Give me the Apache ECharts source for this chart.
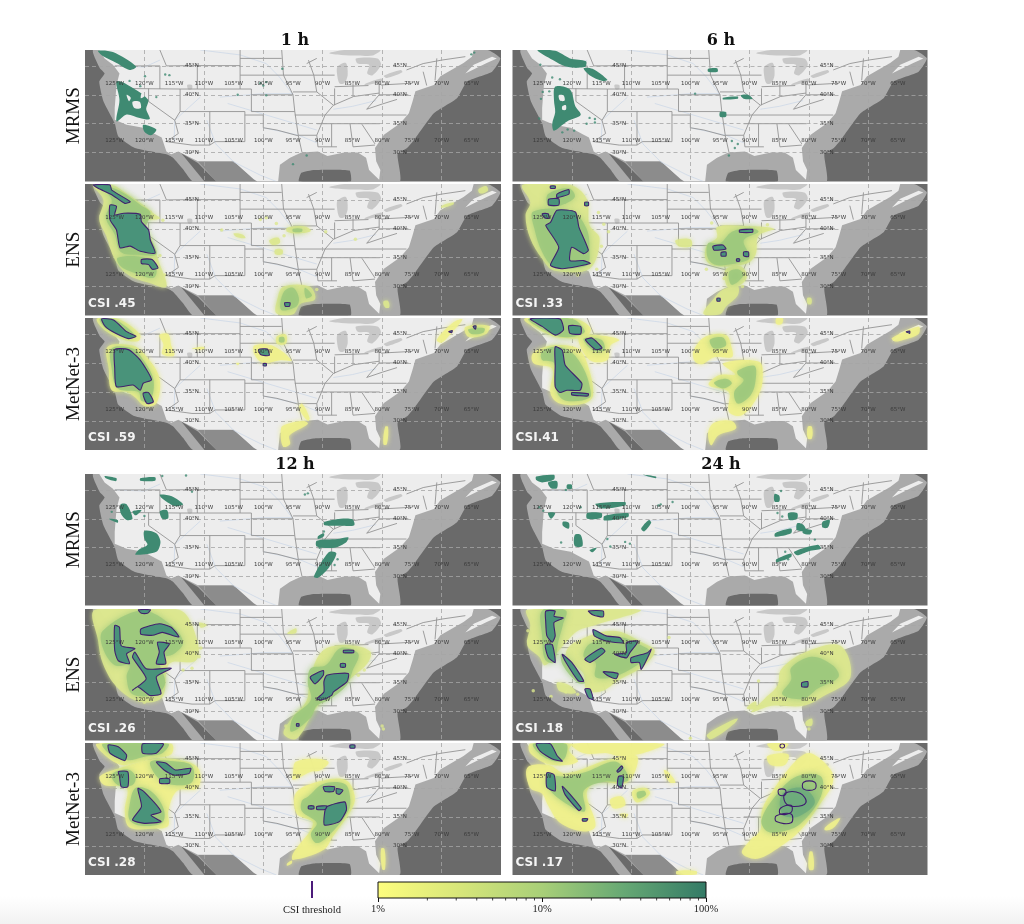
<!DOCTYPE html>
<html>
<head>
<meta charset="utf-8">
<title>Precipitation forecast maps</title>
<script src="https://cdn.jsdelivr.net/npm/echarts@6/dist/echarts.min.js"></script>
<style>
html,body{margin:0;padding:0;background:#fff;}
#main{width:1024px;height:924px;filter:blur(0.45px);}
</style>
</head>
<body>
<div id="main"></div>
<script>
// shapes are flat lists: lon,lat,lon,lat...
var midBand = [[-128.6,47.75,-127.5,44.6,-126.7,43.7,-127.6,42.3,-126.9,38.9,-125,35.1,-124.4,32.8,-121.6,30.8,-116.3,29.7,-115.2,29.1,-113.5,27.1,-111.8,25,-77.1,25,-77.4,29.7,-75.8,30.8,-74.4,32.5,-71.3,36.8,-67.4,39.4,-65.7,42.3,-61.5,44,-60.1,46.3,-62.3,47.75]];
var mexico = [[-111,28.5,-105,28.5,-101.6,25.4,-101,25,-107.9,25]];
var bajaDark = [[-113.8,29.9,-111,28.2,-107.9,25,-109.9,25]];
var gulfDeep = [[-94,25,-93.6,26.5,-91.4,27,-85.5,26.9,-85.3,25]];
var land = [[-127.6,47.75,-126.7,46.3,-125.3,45.2,-124.2,43.7,-124.7,41.7,-125,37.7,-125,35.7,-123,34.8,-120.2,34.3,-118,33.1,-117.1,32.6,-116.3,30.2,-115.5,29.7,-114.3,30.2,-111,28.5,-105,28.5,-101.6,25.4,-101,25,-97.5,25,-97.2,27.9,-95.5,29.1,-93.6,30,-90.8,30.2,-89.2,29.4,-86.4,30,-84.1,30,-82.7,29.1,-82.2,27,-80.5,25.3,-80.3,27,-81,28.5,-81.2,30.8,-79.7,33.1,-76.9,35.1,-75.5,36.8,-74.9,38.8,-74.4,40.6,-71.3,41.7,-70.2,43.2,-66.3,45.5,-64.9,46.6,-64.6,47.75],[-66,43.7,-62.4,45.5,-60.7,46.3,-61.5,46.6,-64.6,45.2]];
var lakes = [
  [-88.9,47.2,-86.4,47.75,-80.3,47.75,-81.6,46.8,-84.1,46.8,-86.9,46.9],
  [-87.5,44.9,-86.1,45.5,-85.8,43.4,-86.4,42,-87.2,42,-87.6,43.7],
  [-84.4,46.3,-80.8,46.3,-80.2,45.2,-81.6,43.4,-82.5,43.7,-82.2,45.2,-84.1,45.4],
  [-83,41.8,-80.2,42.8,-79.9,42.4,-82.5,41.7],
  [-79.7,43.3,-76.9,44.3,-76.6,43.9,-79.2,42.9],
  [-112.8,41.7,-112,41.7,-112,41,-112.6,40.9]
];
var stateLines = [
  [-103.9,47.75,-103.9,41],[-111.1,41,-111.1,45.05,-103.9,45.05],[-114,41,-102,41,-102,37.1],
  [-114,41,-114,37.1,-114.9,35.6,-114.3,33.3,-116.3,31.9],[-114,37.1,-103.1,37.1],[-109,37.1,-109,31.3],
  [-116.3,31.9,-112,31.3,-109,31.3,-108.1,31.9,-103.1,31.9,-103.1,37.1],
  [-103.1,36.5,-100,36.5,-100,34.3,-97.7,33.9,-94.1,32.9],[-102,40,-95,40],[-102,37.1,-94.7,37.1],
  [-95,40,-94.7,37.1,-94.1,32.9,-93.5,30.1],[-103.9,43.4,-96.6,43.4],[-103.9,46.3,-96.9,46.3],
  [-96.9,47.75,-96.6,43.4,-95,40],[-96.6,43.4,-91.5,43.4],[-95,40.5,-91,40.5],
  [-94.7,36.5,-75.9,36.5],[-91,35,-80.4,35],[-94.1,33,-91,33,-90.8,31,-87.6,31],
  [-88.5,35,-88.5,31],[-85.4,35,-84.9,31,-81.2,31.3],[-83.4,34.9,-81.2,31.5],
  [-91.5,43.4,-91,40.5,-88.2,38.2,-89.6,36.5,-91,33],[-88.2,38.2,-84.8,39.7,-80.5,40.3],
  [-80.5,42.3,-80.5,40,-75.6,40],[-80.2,41.7,-74.9,42],[-80.5,40,-82.6,37.5,-80,38.4,-77.5,39.2],
  [-88,41.1,-88,38.2],[-84.9,42,-84.9,39.7],[-88,41.4,-82.3,41.6],[-91.5,43.4,-88,43.4],[-92.4,46,-91.5,43.4],
  [-73.1,44,-72.5,41.6],[-70.8,46.3,-71.1,42.5],[-75.9,44.3,-73.1,45.4,-70,46,-66,46.6],[-92.7,45.4,-91,46.3],
  [-119.3,41.1,-119.3,38.85,-114.9,35.6],[-124.8,41.1,-114,41],[-125,45,-117.4,45],[-117.4,47.75,-116.3,45,-111.1,45.05],[-117.4,45,-117.4,41]
];
var rivers = [
  [-95,40,-97.3,43.1,-99.5,45.4,-103.9,46.9,-110.6,47.75],[-95,40.2,-100,40.2,-107.3,39.6],
  [-106,38.5,-99.5,36.5,-91,33.9],[-109.5,35.6,-108,31.5,-105,28.4,-100.5,26.1,-97.8,25],
  [-110.6,39.6,-114.9,35.6,-115,32],[-100,34.3,-94,33,-91,31.7],[-125,45,-120,44.8,-117.4,46],
  [-88.2,37.5,-85,38,-81,39]
];
var lonLabels = ['125°W','120°W','115°W','110°W','105°W','100°W','95°W','90°W','85°W','80°W','75°W','70°W','65°W'];
var lonTicks = [-125,-120,-115,-110,-105,-100,-95,-90,-85,-80,-75,-70,-65];
var lonLabelLats = [42,32];
var latLabels = ['45°N','40°N','35°N','30°N'];
var latTicks = [45,40,35,30];
var latLabelLons = [-112,-77];

// 1 h
var mrms1h = [[-127.8,47.6,-125.3,47.4,-121.4,44.9,-122.5,44.3,-124.7,45.5,-127,46.7],[-124.7,42.3,-123.3,42,-119.4,39.2,-119.7,37.5,-119.1,35.8,-120.8,36,-123,36.6,-124.7,35.4,-124.2,39.1],[-120.2,34.8,-118,34,-118.9,33,-120,33.6]];
var mrms1hHoles = [[-122,38.8,-120.8,38.8,-120.6,37.7,-121.7,37.7],[-123,40,-122.3,39.5,-122.6,38.9],[-120.5,40.2,-120,39.8,-120.6,39.4]];
var mrms1hSpecks = [[-116.5,43.5],[-115.8,43.4],[-100.5,42],[-100,41.6],[-99.5,42.2],[-96.8,44.5],[-104.3,40],[-99.5,39.9],[-65,47],[-95,28],[-92.7,29.5],[-64.5,47.3],[-122.5,42.4],[-120.7,41.5],[-119.9,43.2],[-118,39.6]];
var ens1hPale = [[-128.6,47.6,-125.5,47.6,-123,46.1,-120.2,44.1,-118.5,42.7,-117.4,41.8,-120,41.2,-118.5,37.5,-117.7,34.7,-116.3,30,-119,30.6,-122.7,32,-125,34.7,-126.4,38.7,-127.6,41.6,-126.9,45],[-97.8,25.4,-97.6,28,-96.6,30,-92.2,30,-91.3,27.8,-93.8,27,-95,25.2],[-96,40.2,-93,40.4,-92,39.6,-94,39.2,-96,39.5],[-99,38,-97.5,38.5,-97.2,37.6,-98.5,37.2],[-98,36.4,-96.8,36.4,-96.8,35.6,-98,35.6],[-105,39.2,-103.5,39,-103,38.4,-104.5,38.6],[-63.8,46.8,-62.5,47.4,-62.2,46.6,-63.5,46.1],[-79.8,27.4,-79,27.5,-78.8,26.4,-79.5,26.4],[-70,44,-68,44.6,-68,44.2,-70,43.6]];
var ens1hDeep = [[-127.5,47.5,-124,46.5,-120.5,44,-119,42.8,-119.8,40,-118.8,38,-118,35.6,-121,35.5,-124,36,-125,39,-126.5,42,-125.5,45],[-124.5,35,-120,35,-118,33,-118.5,31.5,-122,32.5,-124,33.5],[-97,26,-96.6,29,-95,29.8,-94,28,-94.5,26.5],[-93,29.8,-91.8,28.5,-92.8,28],[-95,40,-93.5,40,-93.5,39.5,-95,39.5]];
var ens1hCore = [[-128.6,47.6,-125.8,47.6,-125.5,46.7,-122.4,44.7,-123.3,44.4,-125.5,45.9,-127.8,47],[-125.8,44.1,-124.7,43.9,-125,42.4,-123.5,42.7,-120.7,42.5,-120.5,41.2,-119.3,39.8,-119,38,-118.2,35.8,-120.7,36.1,-122.4,37,-124.1,36.7,-124.7,39.8,-125.8,41.6],[-120.5,34.7,-118.7,34.7,-117.7,33.2,-118.7,33,-119.3,33.8,-120.5,34],[-96.4,27.2,-95.5,27.2,-95.6,26.6,-96.3,26.6]];
var ens1hSpecks = [[-100.5,41.6],[-99.5,41.9],[-97.8,40.9],[-96.5,38.8],[-107,39.8],[-89.5,39.5],[-84.5,38.2],[-119,42.9],[-116.9,41.5],[-117.4,35.4],[-116.6,32],[-94,28.8],[-91,29.5]];
var met1hPale = [[-128,47.6,-124.5,47.6,-120.8,45,-121,43.8,-123.5,44,-126.5,45.5],[-126.2,42.8,-122,43,-120,41.5,-117.5,37.5,-118,33,-120,32.6,-121.5,34,-123,35,-125.5,35.3,-126,39],[-117.5,44.8,-116,45,-115.5,43,-115,41.3,-117,41.5,-116.8,43.2],[-101.5,43,-98.5,43,-95.2,40.4,-97,40.5,-100,40,-101.5,41.5],[-97.7,44.6,-96.2,44.9,-96.2,43.3,-97.7,43.3],[-70.8,44,-68,47,-66.5,47.5,-68.5,45,-70,43.5],[-66,46.2,-62,46.4,-62.5,45,-65.5,44.5],[-97,28.8,-96.7,25.6,-95.5,26,-95.6,27.5,-92.5,29.5,-93.2,30,-96,29.5],[-94,32.2,-92.5,30,-92.2,30.5,-93.5,33],[-79.5,29,-79,29,-79.2,26,-79.8,26],[-112,42.5,-110,42.8,-110,42.3],[-104.6,40,-104,40,-104.3,39.6]];
var met1hDeep = [[-127.5,47.6,-125,47.5,-121.5,44.7,-122.5,44.2,-126.5,46],[-125.5,42.5,-122,42.5,-120.5,41,-118.5,37.2,-119,33.5,-120.5,33.5,-121,35,-124.5,35.6,-125.5,39],[-97.3,44.4,-96.5,44.4,-96.5,43.6,-97.3,43.6],[-65.5,45.8,-62.8,46,-63,45.2,-65,45]];
var met1hCore = [[-127.2,47.6,-125.2,47.4,-123,45.4,-121.4,44.6,-122.7,44.2,-125,45.2,-126.6,46.3],[-125,42.3,-122.7,42.3,-120.7,40.5,-118.8,37.1,-120.2,36.5,-120.7,35.3,-121.9,36.2,-124.7,35.9,-125,39.1],[-120.2,34.8,-119.3,34.9,-118.5,33.3,-119.5,33,-120,33.8],[-100.8,42.3,-99.3,42.4,-99,41.3,-100.4,41.4],[-100,39.9,-99.5,39.9,-99.5,39.5,-100,39.5],[-68.8,45.4,-68.2,45.6,-68.3,45.2],[-64.7,46.3,-64.2,46.4,-64.3,45.8]];
// 6 h
var mrms6h = [[-125.8,47.7,-122.8,47.6,-120.3,46.3,-117.6,45.8,-117.8,44.8,-121,44.9,-123.2,46],[-118,44.6,-116.5,44.5,-114,42.6,-114.8,42.4,-117,43.4],[-122.8,41.4,-120.3,40.9,-119.4,38,-118.5,36.5,-120.8,35.4,-123,33.8,-123.3,35,-122.8,37,-123,39],[-97,44.5,-95.5,44.6,-95.4,44,-97,44],[-91.5,39.9,-90.3,40,-89.5,39.3,-91,39.3],[-94.5,39.5,-92,39.7,-92,39.3,-94.5,39.2],[-95,37,-94,37,-94,36.2,-95,36.2]];
var mrms6hHoles = [[-122.2,39.9,-121.4,39.9,-121.2,39,-122,39],[-121.6,38,-121,38.2,-121,37.4,-121.6,37.4]];
var mrms6hSpecks = [[-125.3,45.2],[-124.9,40.5],[-125.2,39.3],[-125.5,35.9],[-123.3,43],[-123.8,40.6],[-119.3,44.9],[-116.1,35.8],[-116.1,35.2],[-117,36],[-120.7,34],[-119.6,33.8],[-122,42.7],[-99.2,40.2],[-93,32],[-92,31.5],[-92.5,30.8],[-93.5,29.5],[-121.6,33.5],[-117.5,35]];
var ens6hPale = [[-128.3,47.6,-120.3,47.6,-117.5,45.2,-117,40.6,-115.3,38.3,-117,33.1,-123,32.8,-125,34.8,-127,38.3,-127.8,42.3,-127,44.6],[-95.5,40.3,-91,40.5,-85.8,40,-88.5,38.8,-89,35.5,-90.5,34,-95.5,33.5,-97.3,34.5,-97.3,37,-95.5,38.5],[-94,33,-91.5,33.5,-90.5,31.5,-93,29.5,-94,30.5],[-97.8,25.3,-96,28,-94.5,29.5,-92,30,-92,28.5,-94,26.5,-95,25.2],[-102.5,38,-100,38.2,-99.8,37,-102,37],[-80.3,28,-79.6,28,-79.6,27,-80.2,27]];
var ens6hDeep = [[-126.5,43,-120,43,-117.5,40,-117,36,-117.5,33.6,-123,33.5,-125,36,-126.3,40],[-97,37.5,-95,37.5,-93,39.5,-90,40.2,-88.5,39.5,-91,38,-90,35,-91.5,34.2,-95.5,33.7,-97,34.8],[-93.5,32.5,-92,33,-91,32,-93,30.3],[-124,46,-120.5,47,-119.5,45.5,-122,44,-124,44]];
var ens6hCore = [[-122.5,43.2,-119.4,42.9,-118.8,40.3,-117.2,36.3,-118,35.7,-120,36.8,-120.3,34.5,-118,34.5,-116.9,34,-121.6,33.1,-123.6,33.7,-122.2,36.8,-124.4,40.6,-123.6,41.1],[-123.9,45.1,-122.2,45.2,-122.2,44.1,-123.9,44.1],[-122.5,46,-120.5,46.8,-120.5,46,-122.5,45.4],[-125,42.6,-124,42.6,-123.8,41.8,-124.6,41.9],[-96.2,37,-94.5,37.2,-94,36.5,-96,36.3],[-94.8,35.9,-94,36,-94,35.3,-94.8,35.3],[-91.7,39.8,-89.5,39.9,-89.5,39.4,-91.7,39.4],[-91,36,-90.2,36,-90.2,35.2,-91,35.3],[-123.6,47.4,-122.8,47.4,-122.8,47,-123.6,47],[-117.8,44.6,-117.2,44.6,-117.2,44,-117.8,44],[-92.2,34.8,-91.7,34.8,-91.7,34.4,-92.2,34.4],[-95.5,28,-95,28,-95,27.5,-95.5,27.5]];
var ens6hSpecks = [[-115.5,42.8],[-114.6,40.8],[-113.8,39.5],[-115,37],[-115.8,33],[-119,32],[-96.4,41],[-87,40.7],[-94.3,31.4],[-97.3,33],[-91.2,30]];
var met6hPale = [[-128,47.6,-119.5,47.6,-116.8,46,-117.5,44.6,-119,44.2,-121,44.3,-123,44.5],[-126.7,41.4,-125.3,42.5,-122.5,43.1,-119,42.5,-117.5,40.2,-116.4,34.5,-118,33,-122,33,-123.6,34.8,-123.3,39,-126.4,39.9],[-118.9,44.6,-116,44.8,-112,44,-113.5,43,-114,40.5,-117,40.5],[-97.5,44.5,-94,44.8,-93,42.5,-93,41,-96,41,-98,39.8,-99.2,40.2,-99.5,42],[-94.5,39.9,-88.4,40.2,-87.8,37.4,-88.5,34.5,-91.3,31,-93.5,31.6,-93.5,35,-96.9,36.2,-95.2,37.9,-92.4,38],[-97,28,-96,29.7,-93,30,-92.3,28.7,-95.3,27.5,-96.5,25.8],[-80.2,29,-79.5,29,-79.5,27,-80.2,27],[-66,44.3,-61.5,46.3,-61.5,45,-64,44,-65.5,43.7],[-85.5,47.7,-84.4,47.7,-84.6,46.7,-85.5,46.7]];
var met6hDeep = [[-127.3,47.6,-120,47.6,-117.8,45.5,-119,44.7,-122,44.5,-125,45.8],[-125,42,-122.5,42.8,-120,41.8,-118,39,-117,36,-117,34,-121,33.5,-122.5,35,-123,40,-125,40.5],[-92,38.7,-89.2,39.5,-89,37,-89.8,34.5,-92,33,-92.6,35,-91,37,-92,38],[-96,36.6,-94,37.3,-93,36.5,-94.5,35.6],[-96.7,44,-94.5,44.4,-94,43,-96,42.5],[-118,44.2,-115,44,-114.5,42.2,-116.5,42.2]];
var met6hCore = [[-127,47.6,-122,47.6,-121.4,45.7,-122.8,44.8,-125,46.3],[-120.5,46.4,-118.5,46.3,-118.5,45,-120.3,45.1],[-117.7,44,-116.6,44.3,-114.9,42.6,-116,42.3],[-122.8,42.8,-121.6,42.2,-121.1,39.6,-118.3,36.5,-118.6,35.3,-120.8,35.3,-122,34.9,-122.8,35.9,-122.8,39.6],[-120,34.9,-117.2,34.7,-117.3,34.3,-120,34.5],[-63.6,45.4,-63,45.5,-63,45.1]];
// 12 h
var mrms12h = [[-117.4,44.2,-115.4,43.9,-113.5,42.5,-114.9,42.2,-117.2,43.7],[-117.4,41.3,-116.2,41.5,-116,40.1,-117,40],[-120.7,47,-118.2,47.2,-118.2,46.6,-120.7,46.6],[-126.7,47.4,-124.7,47,-124.8,46.5,-126.5,47],[-124,42.5,-123,42.5,-122,40,-123,39.8,-124,41],[-126,40,-124.5,39.8,-124.5,39.3],[-122,41.3,-120.5,41.5,-121.5,40.6],[-120,37.9,-118,37.5,-117.3,36,-118,34.3,-121.5,33.8,-121,34.6,-119.5,35.5,-120,36.5],[-89.8,39.4,-87,40,-85,39.9,-84.7,38.9,-87,38.8,-89.7,38.9],[-91,36.2,-87.5,36.5,-85.7,36.8,-86,36,-88,35,-91,35.2],[-91.5,30,-89,34.2,-87.7,34,-89,31.5,-90.8,29.8],[-90.8,37,-89.8,37.5,-89.8,37,-90.8,36.5]];
var mrms12hSpecks = [[-93,44.2],[-92.5,44.4],[-117,47.4],[-113,47.5],[-112,44.7],[-123.5,41.8],[-125.5,41.2],[-120,40.5],[-88,32],[-87.5,33],[-90.5,35],[-89.8,37.8]];
var ens12hPale = [[-128.3,47.6,-114.2,47.6,-111.1,42.3,-111.4,38.8,-115.8,38.3,-117,32.5,-120.8,31.7,-124.7,34.3,-127,38.3,-127.8,42.3],[-89.9,40.6,-85.5,41.5,-82,40.4,-82.5,38.3,-85,36,-87.7,33.7,-91,30.8,-94.4,25.3,-96.6,26.2,-95,29.1,-92.7,31.9,-92.1,36],[-110.8,45.4,-109.5,45,-110.5,44.5],[-96,43.5,-94.5,44.4,-94.5,43.6]];
var ens12hDeep = [[-127,44,-120.5,47.5,-115.5,45,-113.5,42,-115,40,-117.5,39,-116.5,35,-118,33,-122,33,-123,36,-122.5,38,-125,38,-127,41],[-92,37.5,-89.5,38,-87,41,-84,40,-85,37,-86,34.5,-89,32,-91,31,-92,29,-95.3,26.5,-95,29,-92,32,-92.5,35]];
var ens12hCore = [[-125,44.9,-124.2,44.6,-123.9,41.4,-121.6,40.9,-123,40,-122.5,38.3,-124.4,38.8,-125,40.6],[-120.6,44.3,-117.5,45.2,-115.5,44.6,-114.2,42.9,-117,43.7,-118.6,43.2,-120.6,43.4],[-117.8,42,-115.8,41.7,-116.7,40.3,-116.4,38.3,-118,38.3,-117.5,40.3],[-121.6,40.3,-119.7,37.4,-115.5,37.5,-118,36,-117.2,33.1,-119.1,32.8,-121.1,34.3,-122,33.7,-119.7,35.7,-122,39.4],[-121,47.6,-119,47.6,-119.5,47,-120.5,47],[-89.3,36.3,-85.7,36.6,-85.9,35.2,-88.2,33.4,-88.5,32.8,-90.2,32,-91,32.2,-89.8,33.4,-89.8,35.2],[-92.1,36,-89.9,37.1,-89.9,36.3,-91.3,34.8],[-86.5,40.6,-84.8,40.6,-84.8,40.2,-86.5,40.2],[-87,38.3,-86.2,38.3,-86.2,37.7,-87,37.7],[-94.4,27.9,-94,27.9,-94,27.5,-94.4,27.5]];
var ens12hSpecks = [[-80,27.5],[-79.8,27],[-112,37.5],[-113.5,37.2],[-110.5,41],[-110.8,39.5],[-83,37.2],[-84,36.3],[-120,31.6],[-124,35.5],[-96.2,27.5]];
var met12hPale = [[-128,47.6,-115.5,47.6,-115.5,45.8,-119,45,-122,44.2,-124,44,-126.5,45.5],[-127.5,42,-124,43.5,-119,44.9,-115,45,-111,43.5,-111,40,-114.5,39.5,-116,36,-116,33.5,-118,33,-122.5,33.2,-123.3,36,-123,40,-126.8,40.5],[-94.4,39.3,-89.9,41.3,-86,41.3,-84.6,38.5,-85.2,36.2,-88.3,31.6,-89.9,29.3,-95,27.6,-95,28.7,-91.6,33.9,-94.4,35.6],[-94.5,44.5,-90.5,45,-89,44.4,-90.5,43,-92,42.8,-95,41.4,-95,42.5],[-96,27,-95.2,27.5,-95.2,27,-96,26.6],[-80.2,29.5,-79.6,29.5,-79.5,26,-80,26]];
var met12hDeep = [[-127,47.6,-116,47.6,-117,46,-120,45.4,-123,44.8,-126,46],[-125.5,42.3,-122.8,43.2,-121.5,42,-122,40.5,-124.5,40.5],[-119,44.5,-115,44.6,-112,43.8,-112,41,-115,40.5,-117.5,41.5],[-121.5,40,-119,39.5,-116.8,36.5,-117,34,-120.5,33.5,-122.5,34.5,-122.5,37],[-92.5,38.5,-89.9,40.7,-86.3,40.7,-85.4,38.5,-85.7,36,-88.8,32,-91,30.5,-92,32,-91,34,-93.5,36,-93.5,37.8]];
var met12hCore = [[-126.1,47.4,-124.4,47.1,-123,45.7,-123.3,44.7,-125.8,46],[-120.3,47.6,-116.8,47.6,-118,46,-120.3,46],[-118,44.5,-116.4,44.3,-114.8,43.1,-112.2,43.4,-112.5,42.5,-115,42.2,-116.7,43.1],[-124.4,42.8,-122.8,42.8,-122.8,40.2,-123.9,40.2,-124.2,42],[-121.1,39.9,-120,39.3,-117.2,35.9,-118.9,35.3,-117.2,34.2,-120,33.9,-122,34.5,-120.5,36.8],[-117.4,41.6,-115.8,41.6,-115.8,40.8,-117.4,40.8],[-85.4,47.4,-84.6,47.4,-84.6,46.9,-85.4,46.9],[-89.3,36.8,-86.3,37.6,-86,36.2,-87.2,34.2,-89.7,33.6,-89.7,35.6],[-89.9,40.2,-88,40.2,-88.2,39.4,-89.6,39.4],[-87.7,39.9,-86.6,39.6,-87.2,38.9,-87.7,39.1],[-92.4,36.9,-91.5,36.9,-91.5,36.4,-92.4,36.4],[-91,36.8,-89.3,36.9,-89.6,36.3,-91,36.3]];
// 24 h
var mrms24h = [[-126,47.3,-123,47.6,-123,46.8,-125,46.3,-126,46.7],[-124,46.3,-122.5,46.5,-122.5,45.3,-123.5,45.3],[-120.8,45.9,-120,45.9,-120,45.2,-120.8,45.2],[-108,47.6,-105.8,47,-105.8,47.3],[-117.4,41,-115,41,-115,40.2,-117.4,40],[-116,42.6,-111,42.9,-111,42.3,-115,41.8],[-114.5,40.5,-110.5,41,-110.5,40.3,-114.5,39.7],[-108.3,38.3,-107,39.8,-106.6,39.3,-107.8,37.8],[-119.5,37.2,-118.5,37.2,-118.2,35.3,-119.5,35.3],[-124,41,-122.8,41,-123.5,40],[-121.5,39.5,-120.5,39.3,-120.5,38.3,-121.5,38.8],[-117,34.6,-115.8,35,-116.5,34.2],[-85.8,44.3,-85,44,-85,43,-85.8,43],[-83.5,41,-82,41,-82,40,-83.3,39.8],[-82,39.2,-81,39,-80.5,38,-82,38],[-85.7,37.5,-83,38.3,-83,37.5,-85.7,36.9],[-81,38.2,-79.5,38,-79.8,37.3,-81,37.5],[-77.7,39.5,-76.5,39.8,-76.8,38.5,-77.7,38.5],[-82.5,34.3,-78.5,35.5,-78,34.8,-80,34.4,-82,33.7],[-85.5,33,-83,34,-83,33.4,-85.5,32.5]];
var mrms24hSpecks = [[-125.5,42],[-124.8,41.4],[-121,45],[-113.5,35.2],[-105,42.5],[-105.4,42.3],[-103,42.9],[-118.5,42],[-110.2,35.7],[-85.3,41],[-84.5,40.4],[-84.7,44.8],[-83.5,33],[-84,34.3],[-79,36.4],[-114,36.5],[-121.8,35.9],[-111,36]];
var ens24hPale = [[-127.5,47.6,-108.5,47.6,-116,45,-119,44,-121,42,-122,40.8,-124.5,38,-125.5,39.5,-127.5,41.5,-127,45],[-119.5,42,-113,44,-107.8,41.8,-106,40.5,-108,37.8,-112,35.5,-115,33.5,-117.5,33.8,-118,36.5,-119.5,38,-121,40],[-84.7,37.3,-80.8,40.2,-74.7,41.4,-73,35.9,-77.5,32.7,-81,31,-86.3,31,-89.7,29.9,-87.5,32.2,-85.3,34.5],[-97.2,26,-93,28.5,-92,28.8,-92.5,28,-96.5,25.2],[-80.5,28.3,-79.5,28.8,-79.5,27.6,-80.5,27.6],[-90.5,30.6,-89,31.8,-89,30.5],[-122.5,35,-120.5,34.6,-119.3,33.2,-122,33.5]];
var ens24hDeep = [[-125,47.5,-121,47.5,-121.5,45,-122.3,42,-123,38.5,-124.5,39,-125,43],[-117,41.7,-112.5,43,-108.3,41.5,-106.8,40.3,-109,38,-113,36,-116,36,-116,38.5,-118,39.5],[-121.8,40,-120,38.5,-117.8,35,-119,35,-121.5,38],[-83,37.6,-79.5,39.5,-76,38,-75,36,-78.5,34,-81,32.2,-84.5,33,-83,35.5]];
var ens24hCore = [[-124.4,47.4,-122.8,47.4,-123,46.5,-121.4,46.2,-123,45.4,-122.8,43.1,-123.3,42,-124.2,43.1,-124.4,45.6],[-124.4,41.6,-123.3,41.6,-122.8,38.5,-123.9,39.3,-124.4,40.8],[-121.6,39.9,-120,38.5,-118,35.3,-118.9,35.3,-121.1,38.7],[-117.8,33.9,-116.9,33.9,-116.4,32.1,-117.2,32.4],[-117.2,47.4,-114.7,47.4,-114.7,46.4,-116.4,46.7],[-116.4,44.2,-114.2,43.1,-111.9,42.8,-111.3,41.9,-114.2,42.2,-116.2,43.1],[-117.8,39.1,-115,41,-114.4,40.4,-116.9,38.5],[-112.8,39.9,-110.8,40.2,-110.8,41.9,-108.8,42.2,-110.2,40.2,-110.8,39.3],[-110,39.3,-107.2,40.2,-106.6,40.8,-107.5,38.7,-108.3,37.3,-108.6,38.5,-110,38.5],[-114.7,36.9,-112.2,36.6,-112.5,35.7,-113.9,36.2],[-81.2,35,-80.2,35.2,-80.2,34.3,-81.2,34.3]];
var ens24hSpecks = [[-126.5,33.6],[-123.5,32.6],[-121,33.4],[-119,33],[-127,41.8],[-127.4,44],[-88.5,35.3],[-103.6,42.8],[-75.2,40.9],[-73.5,36.4],[-80,27],[-100,25.4]];
var met24hPale = [[-127,47.6,-120,47.6,-120.5,46.5,-119,44.5,-123.5,44,-127,46],[-127.5,43.5,-124,44,-121,42.5,-114,44.8,-109,45.5,-110.6,41,-116,41,-117.5,39,-116,33.5,-118,32.5,-122,34,-124,37,-125,39,-127,40],[-120,47.6,-104.5,47.6,-108,46,-112,45.5,-114,46,-118,46],[-109.8,39.4,-107.5,40,-106.8,39,-109,37.5],[-113.5,38,-111.5,38.5,-111,37,-113,36.5],[-112,35.5,-110.5,35.5,-111,34.8],[-104.5,43,-103.5,41,-102.5,41,-104,43],[-102.3,25.7,-99,25.7,-99,25.1,-102.3,25.1],[-91.3,28.8,-89.9,31,-88.2,32.7,-87.9,36.2,-86,39.7,-82,44.9,-79.7,46,-76.3,43.1,-76,40.8,-78,37.4,-81.4,32.7,-84.8,29.9,-88.7,27.8],[-87,47.6,-83.5,47.6,-84.5,46.5,-86,46.5],[-87,45.5,-83.5,45.8,-84,44,-86.5,44],[-79.9,29,-79.4,29,-79.2,26,-80,26],[-77.3,33.2,-75.2,34.7,-74.7,34.7,-76,33,-77.3,32.7]];
var met24hDeep = [[-126.5,47.6,-121,47.6,-121,45.5,-122,44.5,-125,45.5],[-121,42,-117.5,42.8,-112.5,44.5,-110.5,41.3,-115,41,-118,39.5,-117.8,36,-120.5,37,-124,40,-124,42],[-88,34.5,-85.5,38.8,-82,42,-78,42,-78,38.5,-81.5,33.8,-84.5,32.5,-87,32.5],[-109,39.2,-107.8,39.5,-107.5,38.8,-108.8,38.2]];
var met24hTeal = [[-84.5,39,-81,40,-79,37.5,-82,35,-84.5,35.5]];
var met24hCore = [[-126,47.6,-123.6,47.6,-122.5,45.6,-121.6,44.6,-123.3,45,-125.3,46.3],[-124.2,42.6,-123,42.3,-122.8,39.5,-124.2,40.1],[-121.6,40.3,-120.2,38.8,-118.4,36.5,-118.8,36.1,-121.1,38.8],[-112.1,42,-111.3,42,-111.6,40,-112.3,40.5],[-112.4,42.9,-111.6,43.8,-111.4,43.5,-112.2,42.7],[-118.2,34.7,-117.3,34.7,-117.5,34.3,-118.2,34.3]];
var met24hRings = [[-80.9,41,-79,41,-79,39.8,-80.9,39.8],[-84,39.1,-81.5,39.1,-80.5,37.5,-82.5,36.8,-84,37.5],[-85.1,39.7,-84,39.7,-84,38.8,-85,38.8],[-84.8,36.5,-83,37,-83,35.8,-84.8,35.5],[-85.5,35.2,-83,35.5,-83,34,-85.5,34.2],[-84.8,47.5,-84.2,47.5,-84.2,47,-84.8,47]];

var colTitles = ['1 h','6 h','12 h','24 h'];
var rowNames = ['MRMS','ENS','MetNet-3'];
var csiValues = ['CSI .45','CSI .59','CSI .33','CSI.41','CSI .26','CSI .28','CSI .18','CSI .17'];
var colorbarMajor = [1,10,100];
var colorbarMinor = [2,3,4,5,6,7,8,9,20,30,40,50,60,70,80,90];

var colX = [85,512.5], colW = [416,415];
var rowY = [50,184,318,474,609,743], rowH = [131.5,131.5,132,131.5,131.5,132];

var C = {dark:'#6a6a6a',mid:'#aaaaaa',mex:'#8c8c8c',land:'#ededed',lake:'#c8c8c8',state:'#949494',river:'#c8d5e6',
  paleEns:'#dce78e',paleMet:'#eef08c',deep:'#9cc87c',teal:'#6caa7c',core:'#44907a',mrms:'#3f8a72',contour:'#3d1a6e'};

var panels = [
  {c:0,r:0,mrms:mrms1h,holes:mrms1hHoles,specks:mrms1hSpecks},
  {c:0,r:1,pale:ens1hPale,deep:ens1hDeep,core:ens1hCore,dots:ens1hSpecks,paleColor:C.paleEns,csi:csiValues[0]},
  {c:0,r:2,pale:met1hPale,deep:met1hDeep,core:met1hCore,paleColor:C.paleMet,csi:csiValues[1]},
  {c:1,r:0,mrms:mrms6h,holes:mrms6hHoles,specks:mrms6hSpecks},
  {c:1,r:1,pale:ens6hPale,deep:ens6hDeep,core:ens6hCore,dots:ens6hSpecks,paleColor:C.paleEns,csi:csiValues[2]},
  {c:1,r:2,pale:met6hPale,deep:met6hDeep,core:met6hCore,paleColor:C.paleMet,csi:csiValues[3]},
  {c:0,r:3,mrms:mrms12h,specks:mrms12hSpecks},
  {c:0,r:4,pale:ens12hPale,deep:ens12hDeep,core:ens12hCore,dots:ens12hSpecks,paleColor:C.paleEns,csi:csiValues[4]},
  {c:0,r:5,pale:met12hPale,deep:met12hDeep,core:met12hCore,paleColor:C.paleMet,csi:csiValues[5]},
  {c:1,r:3,mrms:mrms24h,specks:mrms24hSpecks},
  {c:1,r:4,pale:ens24hPale,deep:ens24hDeep,core:ens24hCore,dots:ens24hSpecks,paleColor:C.paleEns,csi:csiValues[6]},
  {c:1,r:5,pale:met24hPale,deep:met24hDeep,teal:met24hTeal,core:met24hCore,rings:met24hRings,paleColor:C.paleMet,csi:csiValues[7]}
];

function shapeSeries(i,shapes,kind,style,z,smooth){
  return {type:'custom',coordinateSystem:'cartesian2d',xAxisIndex:i,yAxisIndex:i,clip:true,silent:true,z:z,animation:false,
    data:shapes.map(function(s){return [s[0],s[1]];}),
    renderItem:function(params,api){
      var flat=shapes[params.dataIndex],pts=[];
      for(var j=0;j<flat.length;j+=2)pts.push(api.coord([flat[j],flat[j+1]]));
      return {type:kind,shape:{points:pts,smooth:smooth||0},style:style};
    }};
}
function textSeries(i,items,z){
  return {type:'custom',coordinateSystem:'cartesian2d',xAxisIndex:i,yAxisIndex:i,clip:true,silent:true,z:z,animation:false,
    data:items.map(function(t){return [t[0],t[1]];}),
    renderItem:function(params,api){
      var t=items[params.dataIndex],p=api.coord([t[0],t[1]]);
      return {type:'text',x:p[0],y:p[1],style:{text:t[2],fontSize:5.5,fontFamily:'DejaVu Sans',fill:'#3a3a3a',align:'center',verticalAlign:'middle'}};
    }};
}

var grids=[],xAxes=[],yAxes=[],series=[],graphics=[];
var graticuleText=[];
lonLabelLats.forEach(function(la){lonTicks.forEach(function(lo,k){graticuleText.push([lo,la,lonLabels[k]]);});});
latLabelLons.forEach(function(lo){latTicks.forEach(function(la,k){graticuleText.push([lo,la,latLabels[k]]);});});

panels.forEach(function(p,i){
  grids.push({left:colX[p.c],top:rowY[p.r],width:colW[p.c],height:rowH[p.r],show:true,backgroundColor:C.dark,borderWidth:0});
  var dash={show:true,showMinLine:false,showMaxLine:false,lineStyle:{color:'#a4a4a4',type:[4,3],width:0.8}};
  xAxes.push({type:'value',gridIndex:i,min:-130,max:-60,interval:10,z:3,axisLine:{show:false},axisTick:{show:false},axisLabel:{show:false},splitLine:dash});
  yAxes.push({type:'value',gridIndex:i,min:25,max:47.75,interval:5,z:3,axisLine:{show:false},axisTick:{show:false},axisLabel:{show:false},splitLine:dash});
  series.push(shapeSeries(i,midBand,'polygon',{fill:C.mid},1,0.15));
  series.push(shapeSeries(i,mexico,'polygon',{fill:C.mex},1.1));
  series.push(shapeSeries(i,bajaDark,'polygon',{fill:C.dark},1.1));
  series.push(shapeSeries(i,gulfDeep,'polygon',{fill:C.dark},1.1,0.15));
  series.push(shapeSeries(i,land,'polygon',{fill:C.land},1.2));
  series.push(shapeSeries(i,lakes,'polygon',{fill:C.lake},1.3,0.3));
  series.push(shapeSeries(i,rivers,'polyline',{stroke:C.river,fill:null,lineWidth:0.7},1.4));
  series.push(shapeSeries(i,stateLines,'polyline',{stroke:C.state,fill:null,lineWidth:0.9},1.5));
  if(p.mrms){
    series.push(shapeSeries(i,p.mrms,'polygon',{fill:C.mrms},4,0.3));
    if(p.holes)series.push(shapeSeries(i,p.holes,'polygon',{fill:C.land},4.1,0.3));
    series.push({type:'scatter',xAxisIndex:i,yAxisIndex:i,data:p.specks,symbolSize:2.4,itemStyle:{color:C.mrms},silent:true,z:4,animation:false});
  }
  if(p.pale)series.push(shapeSeries(i,p.pale,'polygon',{fill:p.paleColor,opacity:0.9,shadowColor:p.paleColor,shadowBlur:5},4,0.35));
  if(p.dots)series.push({type:'scatter',xAxisIndex:i,yAxisIndex:i,data:p.dots,symbolSize:3.5,itemStyle:{color:p.paleColor},silent:true,z:4,animation:false});
  if(p.deep)series.push(shapeSeries(i,p.deep,'polygon',{fill:C.deep,opacity:0.85,shadowColor:C.deep,shadowBlur:7},4.1,0.35));
  if(p.teal)series.push(shapeSeries(i,p.teal,'polygon',{fill:C.teal,opacity:0.8,shadowColor:C.teal,shadowBlur:8},4.2,0.35));
  if(p.core)series.push(shapeSeries(i,p.core,'polygon',{fill:C.core,stroke:C.contour,lineWidth:1.1,opacity:0.95},4.3,0.2));
  if(p.rings)series.push(shapeSeries(i,p.rings,'polygon',{fill:null,stroke:C.contour,lineWidth:1.1},4.4,0.4));
  series.push(textSeries(i,graticuleText,5));
  if(p.csi)graphics.push({type:'text',left:colX[p.c]+3,top:rowY[p.r]+rowH[p.r]-18,z:20,silent:true,
    style:{text:p.csi,fontSize:12,fontWeight:'bold',fontFamily:'DejaVu Sans',fill:'#f4f4f4'}});
});

// column headers
var titleX=[295,721],titleY=[41,465];
colTitles.forEach(function(t,k){
  graphics.push({type:'text',x:titleX[k%2],y:titleY[k<2?0:1],z:20,silent:true,
    style:{text:t,fontSize:16,fontWeight:'bold',fontFamily:'DejaVu Serif',fill:'#111',align:'center',verticalAlign:'middle'}});
});
// row labels
[0,1,2,3,4,5].forEach(function(r){
  graphics.push({type:'text',x:74,y:rowY[r]+rowH[r]/2,rotation:Math.PI/2,z:20,silent:true,
    style:{text:rowNames[r%3],fontSize:19,fontFamily:'Liberation Serif',fill:'#111',align:'center',verticalAlign:'middle'}});
});
// CSI threshold key
graphics.push({type:'line',shape:{x1:312,y1:881,x2:312,y2:898},z:20,silent:true,style:{stroke:'#4b1a7a',lineWidth:2}});
graphics.push({type:'text',x:312,y:910,z:20,silent:true,style:{text:'CSI threshold',fontSize:10.5,fontFamily:'Liberation Serif',fill:'#222',align:'center',verticalAlign:'middle'}});

// colour bar on a log axis
var cb=panels.length;
grids.push({left:378,top:882,width:328,height:16,show:false});
xAxes.push({type:'log',logBase:10,gridIndex:cb,min:1,max:100,axisLine:{show:false},splitLine:{show:false},
  axisTick:{show:true,length:4,lineStyle:{color:'#111',width:1}},
  axisLabel:{show:true,margin:6,fontSize:10.5,fontFamily:'Liberation Serif',color:'#222',hideOverlap:false,formatter:'{value}%'}});
yAxes.push({type:'value',gridIndex:cb,min:0,max:1,show:false});
series.push({type:'custom',coordinateSystem:'cartesian2d',xAxisIndex:cb,yAxisIndex:cb,silent:true,z:5,animation:false,
  data:[[colorbarMajor[0],colorbarMajor[2]]],
  renderItem:function(params,api){
    var a=api.coord([api.value(0),0]),b=api.coord([api.value(1),1]);
    return {type:'rect',shape:{x:a[0],y:b[1],width:b[0]-a[0],height:a[1]-b[1]},
      style:{stroke:'#111',lineWidth:1,fill:new echarts.graphic.LinearGradient(0,0,1,0,[
        {offset:0,color:'#fdfd7e'},{offset:0.25,color:'#d7e67a'},{offset:0.5,color:'#a8cf78'},{offset:0.75,color:'#66a874'},{offset:1,color:'#337a66'}])}};
  }});
series.push({type:'custom',coordinateSystem:'cartesian2d',xAxisIndex:cb,yAxisIndex:cb,silent:true,z:5,animation:false,
  data:colorbarMinor.map(function(v){return [v,0];}),
  renderItem:function(params,api){
    var a=api.coord([api.value(0),0]);
    return {type:'line',shape:{x1:a[0],y1:a[1],x2:a[0],y2:a[1]+2.5},style:{stroke:'#111',lineWidth:0.8}};
  }});

var chart=echarts.init(document.getElementById('main'),null,{renderer:'canvas'});
chart.setOption({
  animation:false,
  backgroundColor:{type:'linear',x:0,y:0,x2:0,y2:1,colorStops:[{offset:0,color:'#ffffff'},{offset:0.97,color:'#ffffff'},{offset:1,color:'#f2f2f2'}]},
  grid:grids,xAxis:xAxes,yAxis:yAxes,series:series,graphic:graphics
});
</script>
</body>
</html>
